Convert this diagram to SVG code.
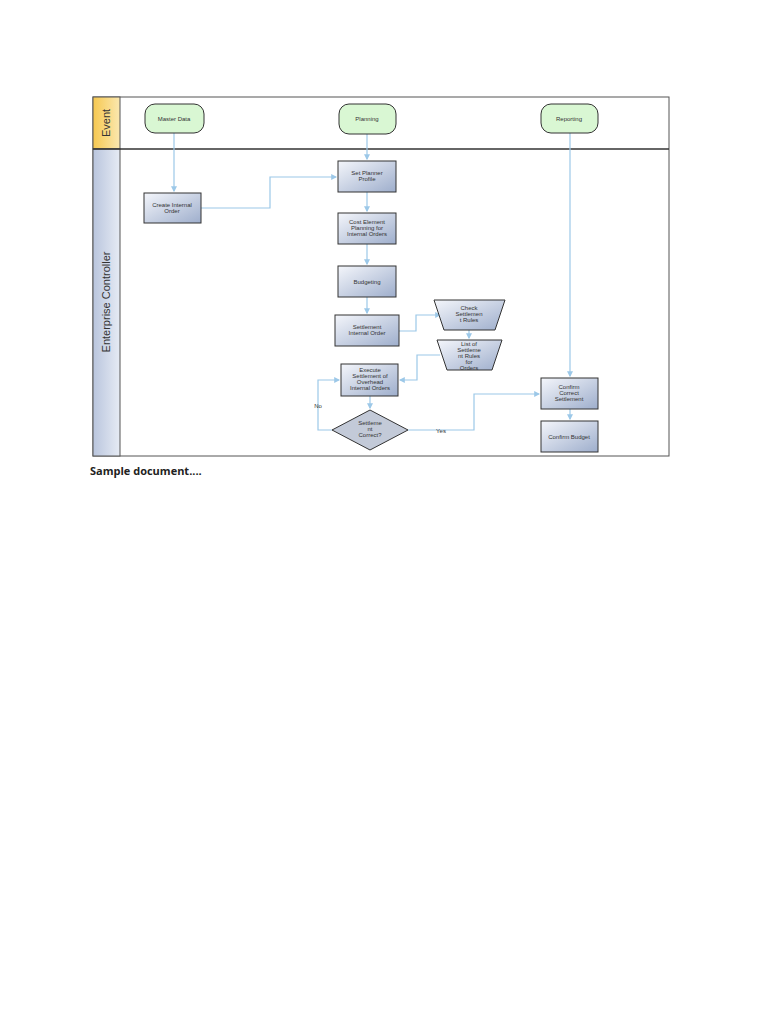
<svg xmlns="http://www.w3.org/2000/svg" width="768" height="1024" viewBox="0 0 768 1024">
<style>
.t{font-family:"Liberation Sans",Arial,sans-serif;font-size:6px;fill:#333;text-anchor:middle}
.box{fill:url(#g);stroke:#333;stroke-width:1}
.ev{fill:#d9f7d3;stroke:#333;stroke-width:1}
.c{fill:none;stroke:#9cc8e8;stroke-width:1.2;marker-end:url(#a)}
</style>
<defs>
<linearGradient id="g" x1="0" y1="0" x2="1" y2="1"><stop offset="0" stop-color="#f4f6fb"/><stop offset="1" stop-color="#9eaecc"/></linearGradient>
<linearGradient id="o" x1="0" y1="0" x2="1" y2="0"><stop offset="0" stop-color="#f6c850"/><stop offset="1" stop-color="#fbe8b0"/></linearGradient>
<linearGradient id="b" x1="0" y1="0" x2="1" y2="0"><stop offset="0" stop-color="#b9c5dd"/><stop offset="1" stop-color="#e6ebf4"/></linearGradient>
<marker id="a" markerWidth="5" markerHeight="5" refX="4" refY="2.5" orient="auto"><path d="M0,0L5,2.5L0,5z" fill="#9cc8e8"/></marker>
</defs>
<rect width="768" height="1024" fill="#fff"/>
<g id="lanes">
<rect x="93" y="97" width="576" height="359" fill="#fff" stroke="#555"/>
<rect x="93" y="97" width="27" height="52" fill="url(#o)" stroke="#555"/>
<rect x="93" y="149" width="27" height="307" fill="url(#b)" stroke="#555"/>
<line x1="93" y1="149" x2="669" y2="149" stroke="#333" stroke-width="1.5"/>
<text transform="translate(110,123) rotate(-90)" style="font-family:'Liberation Sans',Arial,sans-serif;font-size:11px;fill:#333;text-anchor:middle">Event</text>
<text transform="translate(110,302) rotate(-90)" style="font-family:'Liberation Sans',Arial,sans-serif;font-size:11px;fill:#333;text-anchor:middle">Enterprise Controller</text>
</g>
<g id="connectors">
<path class="c" d="M174,133V191"/>
<path class="c" d="M367,134V159"/>
<path class="c" d="M201,208H270V177H336"/>
<path class="c" d="M367,192V211"/>
<path class="c" d="M367,244V264"/>
<path class="c" d="M367,297V313"/>
<path class="c" d="M399,331H416V315H440"/>
<path class="c" d="M469,330V338"/>
<path class="c" d="M440,355H417V380H400"/>
<path class="c" d="M370,396V408"/>
<path class="c" d="M332,430H318V380H339"/>
<path class="c" d="M408,430H474V394H539"/>
<path class="c" d="M570,133V376"/>
<path class="c" d="M570,409V419"/>
<text class="t" x="318" y="408">No</text>
<text class="t" x="441" y="433">Yes</text>
</g>
<g id="master"><rect class="ev" x="145" y="104" width="59" height="29" rx="10"/><text class="t" x="174" y="121">Master Data</text></g>
<g id="planning"><rect class="ev" x="339" y="104" width="57" height="30" rx="10"/><text class="t" x="367" y="121">Planning</text></g>
<g id="reporting"><rect class="ev" x="541" y="104" width="57" height="29" rx="10"/><text class="t" x="569" y="121">Reporting</text></g>
<g id="create"><rect class="box" x="144" y="193" width="57" height="30"/><text class="t" x="172" y="207">Create Internal</text><text class="t" x="172" y="213">Order</text></g>
<g id="setplanner"><rect class="box" x="338" y="161" width="58" height="31"/><text class="t" x="367" y="175">Set Planner</text><text class="t" x="367" y="181">Profile</text></g>
<g id="costelem"><rect class="box" x="338" y="213" width="58" height="31"/><text class="t" x="367" y="224">Cost Element</text><text class="t" x="367" y="230">Planning for</text><text class="t" x="367" y="236">Internal Orders</text></g>
<g id="budgeting"><rect class="box" x="338" y="266" width="58" height="31"/><text class="t" x="367" y="284">Budgeting</text></g>
<g id="settlement"><rect class="box" x="335" y="315" width="64" height="31"/><text class="t" x="367" y="329">Settlement</text><text class="t" x="367" y="335">Internal Order</text></g>
<g id="check"><polygon class="box" points="434,300 505,300 495,330 444,330"/><text class="t" x="469" y="310">Check</text><text class="t" x="469" y="316">Settlemen</text><text class="t" x="469" y="322">t Rules</text></g>
<g id="list"><polygon class="box" points="437,340 502,340 492,370 447,370"/><text class="t" x="469" y="346">List of</text><text class="t" x="469" y="352">Settleme</text><text class="t" x="469" y="358">nt Rules</text><text class="t" x="469" y="364">for</text><text class="t" x="469" y="370">Orders</text></g>
<g id="execute"><rect class="box" x="341" y="364" width="57" height="32"/><text class="t" x="370" y="372">Execute</text><text class="t" x="370" y="378">Settlement of</text><text class="t" x="370" y="384">Overhead</text><text class="t" x="370" y="390">Internal Orders</text></g>
<g id="decision"><polygon points="370,410 408,430 370,450 332,430" fill="#c3cad8" stroke="#333"/><text class="t" x="370" y="425">Settleme</text><text class="t" x="370" y="431">nt</text><text class="t" x="370" y="437">Correct?</text></g>
<g id="confirmset"><rect class="box" x="541" y="378" width="57" height="31"/><text class="t" x="569" y="389">Confirm</text><text class="t" x="569" y="395">Correct</text><text class="t" x="569" y="401">Settlement</text></g>
<g id="confirmbud"><rect class="box" x="541" y="421" width="57" height="31"/><text class="t" x="569" y="439">Confirm Budget</text></g>
<text x="90" y="475" style="font-family:'Open Sans','Liberation Sans',sans-serif;font-size:11px;font-weight:bold;fill:#222">Sample document....</text>
</svg>
